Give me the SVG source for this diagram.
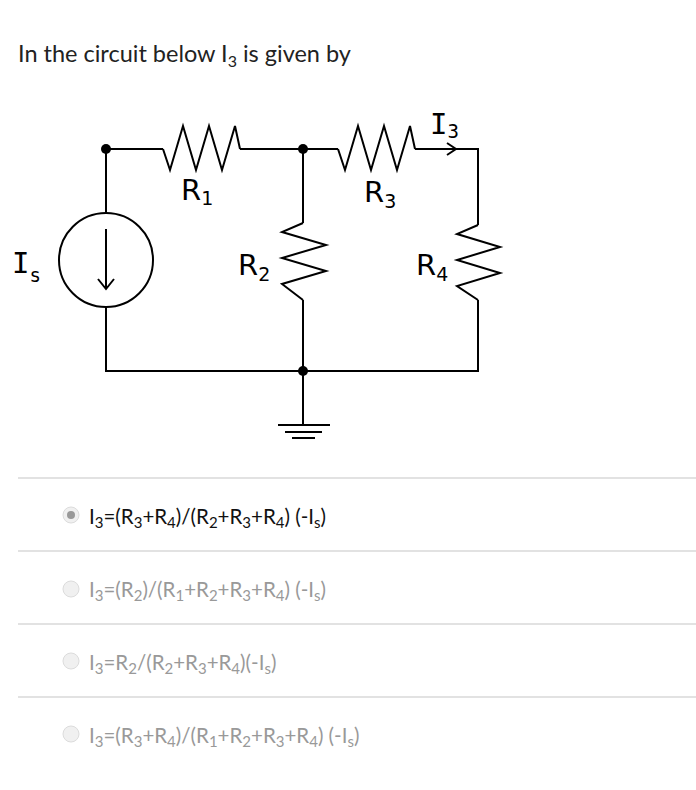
<svg xmlns="http://www.w3.org/2000/svg" width="696" height="790" viewBox="0 0 696 790">
<style>
.w{fill:none;stroke:#000;stroke-width:2;stroke-linejoin:miter}
.ls{font-size:19px}
.t{font-family:Lato,"Liberation Sans",sans-serif;font-size:20.5px}
.sub{font-size:15px}
.sep{stroke:#e2e2e2;stroke-width:2}
.rad{fill:#f0f0f0;stroke:#dcdcdc;stroke-width:1}
</style>
<rect width="696" height="790" fill="#fff"/>
<text x="18" y="62" style="font-family:Lato,'Liberation Sans',sans-serif;font-size:23.5px" fill="#222">In the circuit below I<tspan dy="5" style="font-size:16px">3</tspan><tspan dy="-5"> is given by</tspan></text>
<g id="connectors">
<path class="w" d="M106,149 H163 M240,149 H338 M415,149 H478 V225 M478,300 V371 H106 V307 M106,213 V149 M303,149 V223 M303,300 V425"/>
<path class="w" d="M447,143 L456,149 L447,155" stroke-width="1.2"/>
</g>
<g id="R1"><path class="w" d="M163,149 L170,170 L183,126 L196,170 L209,126 L222,170 L235,126 L240,149"/><text style="font-family:'DejaVu Sans',sans-serif;font-size:29px" x="181" y="200">R<tspan class="ls" dy="5">1</tspan></text></g>
<g id="R3"><path class="w" d="M338,149 L345,170 L358,126 L371,170 L384,126 L397,170 L410,126 L415,149"/><text style="font-family:'DejaVu Sans',sans-serif;font-size:29px" x="364" y="202">R<tspan class="ls" dy="6">3</tspan></text></g>
<g id="R2"><path class="w" d="M303,223 L282,232 L326,245 L282,258 L326,271 L282,284 L303,300"/><text style="font-family:'DejaVu Sans',sans-serif;font-size:29px" x="238" y="275">R<tspan class="ls" dy="6">2</tspan></text></g>
<g id="R4"><path class="w" d="M478,225 L457,234 L500,247 L457,260 L500,273 L457,286 L478,300"/><text style="font-family:'DejaVu Sans',sans-serif;font-size:29px" x="416" y="275">R<tspan class="ls" dy="6">4</tspan></text></g>
<g id="Is"><circle class="w" cx="106" cy="260" r="47"/><path class="w" stroke-width="1.2" d="M106,229 V289 M98,279 L106,289 L114,279"/><text style="font-family:'DejaVu Sans Mono',monospace;font-size:29px" x="12" y="273">I<tspan class="ls" dy="9">s</tspan></text></g>
<g id="I3"><text style="font-family:'DejaVu Sans Mono',monospace;font-size:29px" x="430" y="134">I<tspan class="ls" dy="4">3</tspan></text></g>
<g id="nodes"><circle cx="106" cy="149" r="5"/><circle cx="303" cy="149" r="5"/><circle cx="303" cy="371" r="5"/></g>
<g id="ground" class="w"><path d="M278,425 H330 M285,432 H322 M292,438 H315"/></g>
<g id="options">
<line class="sep" x1="18" y1="478" x2="696" y2="478"/>
<line class="sep" x1="18" y1="551" x2="696" y2="551"/>
<line class="sep" x1="18" y1="624" x2="696" y2="624"/>
<line class="sep" x1="18" y1="697" x2="696" y2="697"/>
<circle class="rad" cx="71" cy="515" r="8"/><circle cx="71" cy="515" r="4" fill="#999"/>
<circle class="rad" cx="71" cy="589" r="8"/>
<circle class="rad" cx="71" cy="661" r="8"/>
<circle class="rad" cx="71" cy="734" r="8"/>
<text class="t" x="89" y="524" fill="#111">I<tspan class="sub" dy="4">3</tspan><tspan dy="-4">=(R</tspan><tspan class="sub" dy="4">3</tspan><tspan dy="-4">+R</tspan><tspan class="sub" dy="4">4</tspan><tspan dy="-4">)/(R</tspan><tspan class="sub" dy="4">2</tspan><tspan dy="-4">+R</tspan><tspan class="sub" dy="4">3</tspan><tspan dy="-4">+R</tspan><tspan class="sub" dy="4">4</tspan><tspan dy="-4">) (-I</tspan><tspan class="sub" dy="4">s</tspan><tspan dy="-4">)</tspan></text>
<text class="t" x="89" y="597" fill="#999">I<tspan class="sub" dy="4">3</tspan><tspan dy="-4">=(R</tspan><tspan class="sub" dy="4">2</tspan><tspan dy="-4">)/(R</tspan><tspan class="sub" dy="4">1</tspan><tspan dy="-4">+R</tspan><tspan class="sub" dy="4">2</tspan><tspan dy="-4">+R</tspan><tspan class="sub" dy="4">3</tspan><tspan dy="-4">+R</tspan><tspan class="sub" dy="4">4</tspan><tspan dy="-4">) (-I</tspan><tspan class="sub" dy="4">s</tspan><tspan dy="-4">)</tspan></text>
<text class="t" x="89" y="670" fill="#999">I<tspan class="sub" dy="4">3</tspan><tspan dy="-4">=R</tspan><tspan class="sub" dy="4">2</tspan><tspan dy="-4">/(R</tspan><tspan class="sub" dy="4">2</tspan><tspan dy="-4">+R</tspan><tspan class="sub" dy="4">3</tspan><tspan dy="-4">+R</tspan><tspan class="sub" dy="4">4</tspan><tspan dy="-4">)(-I</tspan><tspan class="sub" dy="4">s</tspan><tspan dy="-4">)</tspan></text>
<text class="t" x="89" y="743" fill="#999">I<tspan class="sub" dy="4">3</tspan><tspan dy="-4">=(R</tspan><tspan class="sub" dy="4">3</tspan><tspan dy="-4">+R</tspan><tspan class="sub" dy="4">4</tspan><tspan dy="-4">)/(R</tspan><tspan class="sub" dy="4">1</tspan><tspan dy="-4">+R</tspan><tspan class="sub" dy="4">2</tspan><tspan dy="-4">+R</tspan><tspan class="sub" dy="4">3</tspan><tspan dy="-4">+R</tspan><tspan class="sub" dy="4">4</tspan><tspan dy="-4">) (-I</tspan><tspan class="sub" dy="4">s</tspan><tspan dy="-4">)</tspan></text>
</g>
</svg>
